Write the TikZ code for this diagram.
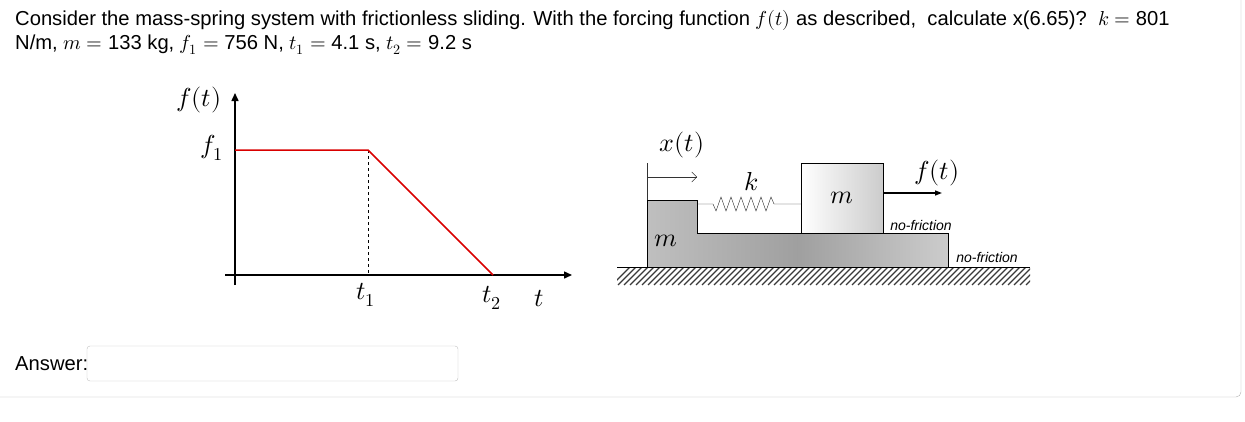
\documentclass[tikz,border=0pt]{standalone}
\usepackage{fontspec}
\setmainfont{Liberation Sans}
\usepackage{unicode-math}
\setmathfont{Latin Modern Math}
\usetikzlibrary{arrows.meta}
\begin{document}
\begin{tikzpicture}[x=1pt,y=-1pt,
  txt/.style={anchor=west,inner sep=0pt,font=\fontsize{20.2}{22}\selectfont},
  lab/.style={inner sep=0pt,font=\fontsize{26}{28}\selectfont},
  nf/.style={inner sep=0pt,font=\fontsize{14}{15}\selectfont\itshape}]
\useasboundingbox (0,0) rectangle (1245,421);
\node[txt] (l1) at (15,20) {Consider the mass-spring system with frictionless sliding. With the forcing function $f(t)$ as described,\ \ calculate x(6.65)?\ \ $k=$ 801};
\node[txt] (l2) at (15,45) {N/m, $m=$ 133 kg, $f_1=$ 756 N, $t_1=$ 4.1 s, $t_2=$ 9.2 s};
% graph
\draw[line width=1.5pt,-{Triangle[length=8pt,width=7pt]}] (235,285) -- (235,93);
\draw[line width=1.5pt,-{Triangle[length=8pt,width=7pt]}] (225,275) -- (572,275);
\draw[dashed] (368,150) -- (368,275);
\draw[red!85!black,line width=1.5pt] (235,150) -- (368,150) -- (493,275);
\node[lab] (ft) at (199,100) {$f(t)$};
\node[lab] (f1) at (212,148) {$f_1$};
\node[lab] (t1) at (366,295) {$t_1$};
\node[lab] (t2) at (492,298) {$t_2$};
\node[lab] (tt) at (539,298) {$t$};
% mechanism
\begin{scope}
\clip (617,267) rectangle (1030,285);
\foreach \i in {0,...,72} {\draw[gray!45!black,line width=1.2pt] (612+6*\i,285) -- (630+6*\i,267);}
\end{scope}
\draw[left color=gray!50,right color=gray!40,middle color=gray!75,draw=black]
  (647,267) -- (647,200) -- (697,200) -- (697,233) -- (948,233) -- (948,267) -- cycle;
\draw[line width=1pt] (617,267) -- (1030,267);
\node[draw,minimum width=82pt,minimum height=70pt,inner sep=0pt,left color=white,right color=gray!40] (mass) at (842,198) {};
\node[lab] at (mass) {$m$};
\node[lab] (m2) at (666,241) {$m$};
\draw[gray!30!black] (697,204) -- (713,204) -- (716,211) -- (721,197) -- (726,211) -- (731,197) -- (736,211) -- (741,197) -- (746,211) -- (751,197) -- (756,211) -- (761,197) -- (766,211) -- (771,197) -- (774,204) -- (801,204);
\draw[gray!40!black] (647,163) -- (647,200);
\draw[gray!40!black,-{Straight Barb[length=5pt]}] (647,177) -- (697,177);
\node[lab] (xt) at (682,145) {$x(t)$};
\node[lab] (k) at (751,182) {$k$};
\draw[line width=1.5pt,-{Triangle[length=7pt,width=5pt]}] (883,193) -- (942,193);
\node[lab] (fft) at (937,173) {$f(t)$};
\node[nf] (nf1) at (921,225) {no-friction};
\node[nf] (nf2) at (987,257) {no-friction};
% answer
\node[txt] (ans) at (15,364) {Answer:};
\draw[gray!50,rounded corners=3pt] (87,346) rectangle (458,381);
\draw[gray!60] (0,397) -- (1236,397) arc (90:0:5) -- (1241,0);
\end{tikzpicture}
\end{document}
